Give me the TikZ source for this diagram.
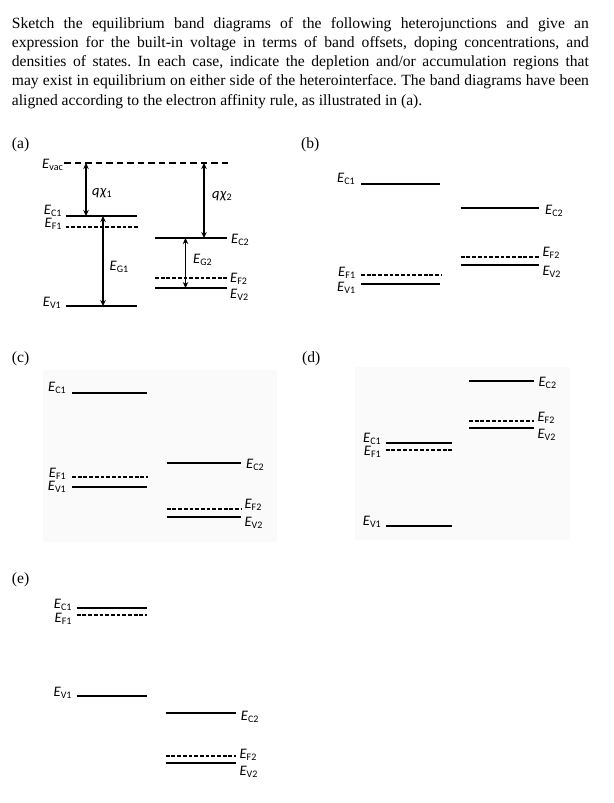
\documentclass[tikz,border=0pt]{standalone}
\usepackage{fontspec}
\setmainfont{Liberation Serif}
\newfontfamily\lab{Carlito}
\usetikzlibrary{arrows.meta}
\newcommand{\EL}[1]{{\lab\fontsize{14.5}{14.5}\selectfont\itshape E\/}\raisebox{-2.2pt}{\lab\fontsize{10}{10}\selectfont #1}}
\newcommand{\QX}[1]{{\lab\fontsize{14.5}{14.5}\selectfont\itshape q\kern0.5pt χ\/}\raisebox{-2.2pt}{\lab\fontsize{10}{10}\selectfont #1}}
\newcommand{\lvl}[5]{\coordinate (#1-l) at (#3,#5); \coordinate (#1-r) at (#4,#5); \draw[#2] (#1-l) -- (#1-r);}
\newcommand{\Ln}[1]{\makebox[577pt][s]{#1}}
\begin{document}
\begin{tikzpicture}[x=1pt,y=-1pt,
  band/.style={line width=2pt},
  fermi/.style={line width=1.6pt, dash pattern=on 3.8pt off 1.9pt},
  vac/.style={line width=1.4pt, dash pattern=on 6.5pt off 4pt},
  dim/.style={{Stealth[length=6pt,width=5.5pt]}-{Stealth[length=6pt,width=5.5pt]}, line width=1.2pt},
  lbl/.style={inner sep=0pt, text height=9.2pt, text depth=2.2pt},
  bg/.style={fill=black!2, draw=none},
  tag/.style={inner sep=0pt, anchor=base west, font=\fontsize{15.6}{19.2}\selectfont}]
\useasboundingbox (0,0) rectangle (613,803);
% problem text
\node[inner sep=0pt, anchor=base west] (txt) at (11.7,28.3) {\fontsize{15.6}{19.2}\selectfont\frenchspacing
\parbox[t]{577pt}{%
\Ln{Sketch the equilibrium band diagrams of the following heterojunctions and give an}\\
\Ln{expression for the built-in voltage in terms of band offsets, doping concentrations, and}\\
\Ln{densities of states. In each case, indicate the depletion and/or accumulation regions that}\\
\Ln{may exist in equilibrium on either side of the heterointerface. The band diagrams have been}\\
aligned according to the electron affinity rule, as illustrated in (a).}};
% panel tags
\node[tag] (ta) at (11.7,148) {(a)};
\node[tag] (tb) at (301,148) {(b)};
\node[tag] (tc) at (11.7,362) {(c)};
\node[tag] (td) at (302,362) {(d)};
\node[tag] (te) at (11.7,583) {(e)};
% backgrounds
\fill[bg] (43,370) rectangle (277,542);
\fill[bg] (355,367) rectangle (570,540);

% ---------- (a)
\lvl{avac}{vac}{64}{228}{163}
\lvl{ac1}{band}{65.5}{136.5}{216}
\lvl{af1}{fermi}{65.5}{137.5}{227}
\lvl{av1}{band}{65.5}{136.5}{306}
\lvl{ac2}{band}{155}{227}{238}
\lvl{af2}{fermi}{155}{227}{278}
\lvl{av2}{band}{155}{227}{288}
\coordinate (aq1t) at (86,163);  \coordinate (aq1b) at (86,216);
\coordinate (ag1t) at (103,216); \coordinate (ag1b) at (103,306);
\coordinate (aq2t) at (204,163); \coordinate (aq2b) at (204,238);
\coordinate (ag2t) at (185.5,238); \coordinate (ag2b) at (185.5,288);
\draw[dim] (aq1t) -- (aq1b);
\draw[dim] (ag1t) -- (ag1b);
\draw[dim] (aq2t) -- (aq2b);
\draw[dim] (ag2t) -- (ag2b);
\node[lbl, anchor=base east] (lavac) at (63,168.3) {\EL{vac}};
\node[lbl, anchor=base east] (lac1) at (61.7,214) {\EL{C1}};
\node[lbl, anchor=base east] (laf1) at (61.7,227) {\EL{F1}};
\node[lbl, anchor=base east] (lav1) at (61,306) {\EL{V1}};
\node[lbl, anchor=base west] (laq1) at (92,195.5) {\QX{1}};
\node[lbl, anchor=base west] (laq2) at (212,198.5) {\QX{2}};
\node[lbl, anchor=base west] (lag1) at (109.5,270) {\EL{G1}};
\node[lbl, anchor=base west] (lag2) at (193,263) {\EL{G2}};
\node[lbl, anchor=base west] (lac2) at (231,243) {\EL{C2}};
\node[lbl, anchor=base west] (laf2) at (230,282) {\EL{F2}};
\node[lbl, anchor=base west] (lav2) at (230,298.6) {\EL{V2}};

% ---------- (b)
\lvl{bc1}{band}{361}{440}{184}
\lvl{bf1}{fermi}{361}{441}{275}
\lvl{bv1}{band}{361}{440}{284}
\lvl{bc2}{band}{460.7}{539}{208}
\lvl{bf2}{fermi}{460.7}{539}{257}
\lvl{bv2}{band}{460.7}{539}{265}
\node[lbl, anchor=base east] (lbc1) at (355,182.3) {\EL{C1}};
\node[lbl, anchor=base east] (lbf1) at (355.3,276) {\EL{F1}};
\node[lbl, anchor=base east] (lbv1) at (355.3,291.7) {\EL{V1}};
\node[lbl, anchor=base west] (lbc2) at (545,214) {\EL{C2}};
\node[lbl, anchor=base west] (lbf2) at (542.3,256.7) {\EL{F2}};
\node[lbl, anchor=base west] (lbv2) at (542.3,275) {\EL{V2}};

% ---------- (c)
\lvl{cc1}{band}{72}{146.7}{393}
\lvl{cf1}{fermi}{72}{148}{477}
\lvl{cv1}{band}{72}{146.7}{487}
\lvl{cc2}{band}{166.7}{240.7}{463}
\lvl{cf2}{fermi}{166.7}{241}{509}
\lvl{cv2}{band}{166.7}{240.7}{517}
\node[lbl, anchor=base east] (lcc1) at (66,391.7) {\EL{C1}};
\node[lbl, anchor=base east] (lcf1) at (66,477) {\EL{F1}};
\node[lbl, anchor=base east] (lcv1) at (66,490.2) {\EL{V1}};
\node[lbl, anchor=base west] (lcc2) at (246,468.3) {\EL{C2}};
\node[lbl, anchor=base west] (lcf2) at (244.3,508.3) {\EL{F2}};
\node[lbl, anchor=base west] (lcv2) at (244.3,526.7) {\EL{V2}};

% ---------- (d)
\lvl{dc1}{band}{385.7}{451.7}{443}
\lvl{df1}{fermi}{385.7}{451.7}{450}
\lvl{dv1}{band}{385.7}{451.7}{526}
\lvl{dc2}{band}{469}{534}{381}
\lvl{df2}{fermi}{469}{534}{421}
\lvl{dv2}{band}{469}{534}{428}
\node[lbl, anchor=base east] (ldc1) at (381,442.2) {\EL{C1}};
\node[lbl, anchor=base east] (ldf1) at (381,455.5) {\EL{F1}};
\node[lbl, anchor=base east] (ldv1) at (381,525.5) {\EL{V1}};
\node[lbl, anchor=base west] (ldc2) at (538.3,386.7) {\EL{C2}};
\node[lbl, anchor=base west] (ldf2) at (537.3,421.7) {\EL{F2}};
\node[lbl, anchor=base west] (ldv2) at (537.3,438.3) {\EL{V2}};

% ---------- (e)
\lvl{ec1}{band}{76.7}{146.7}{608}
\lvl{ef1}{fermi}{76.7}{146.7}{615}
\lvl{ev1}{band}{76.7}{146.7}{696}
\lvl{ec2}{band}{165.7}{235.7}{713}
\lvl{ef2}{fermi}{165.7}{235.7}{756}
\lvl{ev2}{band}{165.7}{235.7}{763}
\node[lbl, anchor=base east] (lec1) at (71.7,608.4) {\EL{C1}};
\node[lbl, anchor=base east] (lef1) at (71.7,622.2) {\EL{F1}};
\node[lbl, anchor=base east] (lev1) at (71.7,696.7) {\EL{V1}};
\node[lbl, anchor=base west] (lec2) at (240.7,720) {\EL{C2}};
\node[lbl, anchor=base west] (lef2) at (239.3,758.3) {\EL{F2}};
\node[lbl, anchor=base west] (lev2) at (239.3,775) {\EL{V2}};
\end{tikzpicture}
\end{document}
